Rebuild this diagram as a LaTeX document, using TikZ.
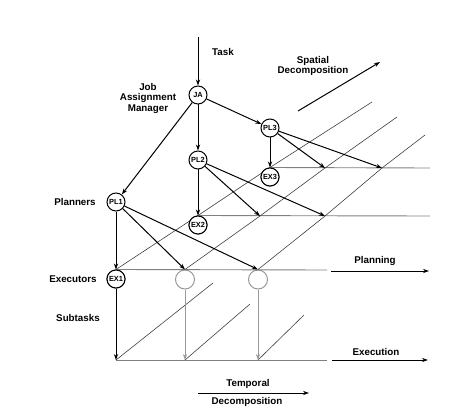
\documentclass[tikz,border=0pt]{standalone}
\usepackage{fontspec}
\setmainfont{Liberation Sans}
\usetikzlibrary{arrows.meta}
\tikzset{
  x=1pt, y=-1pt,
  lbl/.style={font=\fontsize{9.8}{10.5}\selectfont\bfseries, inner sep=0pt, align=center},
  agent/.style={circle, draw=black, line width=1pt, minimum size=18pt, inner sep=0pt, font=\fontsize{7.4}{7.5}\selectfont\bfseries, fill=white},
  ghost/.style={circle, draw=black!40, line width=1pt, minimum size=19pt, inner sep=0pt},
  arr/.style={-{Stealth[length=6pt,width=4.2pt]}, line width=1pt, black},
  garr/.style={-{Stealth[length=6pt,width=4.2pt]}, line width=1pt, black!40},
  diag/.style={line width=0.6pt, black!75},
  hline/.style={line width=0.9pt, black!50},
}
\begin{document}
\begin{tikzpicture}
\useasboundingbox (0,0) rectangle (474,417);
\coordinate (top) at (198,37);
\coordinate (p2a) at (260,216);
\coordinate (p2b) at (325,216);
\coordinate (p3a) at (325,168);
\coordinate (p3b) at (382,168);
\coordinate (d1e) at (372,102);
\coordinate (d2e) at (397,117);
\coordinate (d3e) at (425,135);
\coordinate (h1e) at (327,270);
\coordinate (h2e) at (430,216);
\coordinate (h3e) at (430,168);
\coordinate (b0) at (116,360);
\coordinate (b1) at (185,360);
\coordinate (b2) at (258,360);
\coordinate (b3) at (327,360);
\coordinate (s0) at (213,283);
\coordinate (s1) at (250,304);
\coordinate (s2) at (304,315);

% nodes
\node[agent] (ja)  at (198,95)  {JA};
\node[agent] (pl3) at (270,128) {PL3};
\node[agent] (pl2) at (198,160) {PL2};
\node[agent] (pl1) at (116,202) {PL1};
\node[agent] (ex3) at (270,177) {EX3};
\node[agent] (ex2) at (198,225) {EX2};
\node[agent] (ex1) at (116,279) {EX1};
\node[ghost] (g1)  at (185,279.5) {};
\node[ghost] (g2)  at (258,279.5) {};

% horizontal lines
\draw[hline] (ex1.north) -- (h1e);
\draw[hline] (ex2.north) -- (h2e);
\draw[hline] (ex3.north) -- (h3e);
\draw[hline] (b0) -- (b3);

% diagonal lines
\draw[diag] (ex1.north) -- (ex2.north) -- (ex3.north) -- (d1e);
\draw[diag] (g1.north) -- (p2a) -- (p3a) -- (d2e);
\draw[diag] (g2.north) -- (p2b) -- (p3b) -- (d3e);
\draw[diag] (b0) -- (s0);
\draw[diag] (b1) -- (s1);
\draw[diag] (b2) -- (s2);

% redraw executors on top of the grid
\node[agent] at (ex1) {EX1};
\node[agent] at (ex2) {EX2};
\node[agent] at (ex3) {EX3};

% arrows
\draw[arr] (top) -- (ja);
\draw[arr] (ja) -- (pl3);
\draw[arr] (ja) -- (pl2);
\draw[arr] (ja) -- (pl1);
\draw[arr] (pl3) -- (ex3);
\draw[arr] (pl3) -- (p3a);
\draw[arr] (pl3) -- (p3b);
\draw[arr] (pl2) -- (ex2);
\draw[arr] (pl2) -- (p2a);
\draw[arr] (pl2) -- (p2b);
\draw[arr] (pl1) -- (ex1);
\draw[arr] (pl1) -- (g1.north);
\draw[arr] (pl1) -- (g2.north);
\draw[arr] (ex1) -- (b0);
\draw[garr] (g1) -- (b1);
\draw[garr] (g2) -- (b2);

% direction arrows
\coordinate (sp0) at (298,111);
\coordinate (sp1) at (380,62);
\draw[arr] (sp0) -- (sp1);
\coordinate (pa0) at (331,271);
\coordinate (pa1) at (429,271);
\draw[arr] (pa0) -- (pa1);
\coordinate (ea0) at (332,360);
\coordinate (ea1) at (428,360);
\draw[arr] (ea0) -- (ea1);
\coordinate (ta0) at (198,393);
\coordinate (ta1) at (309,393);
\draw[arr] (ta0) -- (ta1);

% labels
\node[lbl] (tTask) at (223,52) {Task};
\node[lbl] (tSpat) at (313,66) {Spatial\\Decomposition};
\node[lbl] (tJob) at (148,98) {Job\\Assignment\\Manager};
\node[lbl] (tPlanners) at (75,202) {Planners};
\node[lbl] (tExec) at (73,279) {Executors};
\node[lbl] (tSub) at (78,318) {Subtasks};
\node[lbl] (tPlan) at (375,261) {Planning};
\node[lbl] (tExe) at (376,352) {Execution};
\node[lbl] (tTemp) at (248,384) {Temporal};
\node[lbl] (tDec) at (247,402) {Decomposition};
\end{tikzpicture}
\end{document}
